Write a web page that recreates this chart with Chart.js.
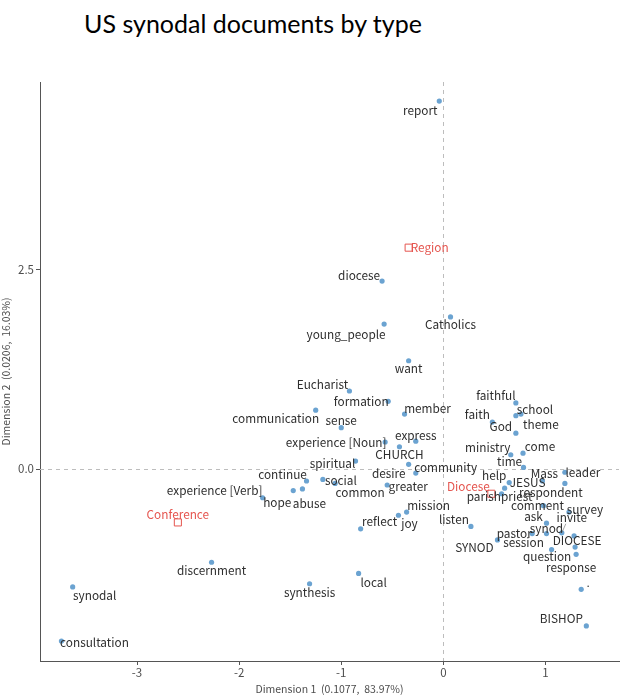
<!DOCTYPE html>
<html><head><meta charset="utf-8">
<script src="https://cdn.jsdelivr.net/npm/chart.js@4"></script>
<style>
html,body{margin:0;padding:0;background:#fff;}
#wrap{position:relative;width:625px;height:698px;overflow:hidden;}
#title{position:absolute;left:0;top:1px;width:506px;text-align:center;font-family:Lato,"Open Sans",sans-serif;font-size:25px;line-height:44px;color:#000;}
canvas{position:absolute;left:0;top:0;}
</style></head>
<body><div id="wrap"><div id="title">US synodal documents by type</div><canvas id="c" width="625" height="698"></canvas></div>
<script>
const words = ['report','diocese','Catholics','young_people','want','Eucharist','formation','member','communication','sense',
 'experience [Noun]','express','CHURCH','spiritual','community','desire','greater','common','social','continue',
 'abuse','hope','experience [Verb]','mission','joy','reflect','listen','SYNOD','pastor','session',
 'synod','ask','comment','survey','invite','DIOCESE','question','response','.','BISHOP',
 'Mass','leader','respondent','help','JESUS','parishpriest','time','come','ministry','faithful',
 'school','theme','faith','God','discernment','synodal','consultation','synthesis','local'];
const dim1 = [-0.04,-0.60,0.07,-0.58,-0.34,-0.92,-0.54,-0.38,-1.25,-1.00,
 -0.57,-0.27,-0.43,-0.86,-0.34,-0.27,-0.55,-1.06,-1.18,-1.34,
 -1.38,-1.47,-1.77,-0.36,-0.44,-0.81,0.27,0.53,0.87,1.06,
 1.01,1.01,0.98,1.23,1.16,1.28,1.29,1.30,1.35,1.40,
 0.97,1.19,1.19,0.645,0.60,0.57,0.785,0.78,0.66,0.71,
 0.76,0.71,0.48,0.71,-2.27,-3.63,-3.74,-1.31,-0.83];
const dim2 = [4.62,2.36,1.91,1.82,1.36,0.98,0.85,0.69,0.74,0.52,
 0.34,0.35,0.28,0.10,0.06,-0.05,-0.20,-0.18,-0.13,-0.15,
 -0.25,-0.27,-0.36,-0.54,-0.58,-0.75,-0.72,-0.89,-0.81,-1.01,
 -0.81,-0.68,-0.46,-0.54,-0.80,-0.84,-0.98,-1.07,-1.51,-1.97,
 -0.15,-0.04,-0.18,-0.17,-0.24,-0.31,0.02,0.20,0.18,0.83,
 0.69,0.67,0.59,0.45,-1.17,-1.48,-2.16,-1.44,-1.31];
const suppLabels = ['Region','Conference','Diocese'];
const suppDim1 = [-0.34,-2.60,0.47];
const suppDim2 = [2.78,-0.67,-0.31];
const xTicks = [-3,-2,-1,0,1];
const yTicks = [0.0,2.5];
const xTitle = 'Dimension 1  (0.1077,  83.97%)';
const yTitle = 'Dimension 2  (0.0206,  16.03%)';

// label placement (pixel offsets from each point), layout only
const wordOffsets = [[-19,9],[-23,-6],[0,8],[-38,10],[0,8],[-27,-7],[-27,0],[23,-6],[-40,8],[0,-7],
 [-49,1],[0,-6],[0,8],[-23,2],[37,3],[-27,0],[21,2],[25,9],[18,1],[-24,-7],
 [7,15],[-16,12],[-48,-7],[22,-7],[11,8],[19,-7],[-17,-7],[-23,8],[-18,0],[-28,-7],
 [0,-5],[-13,-7],[-6,0],[16,-3],[10,-15],[3,5],[-28,9],[-5,13],[7,-7],[-25,-7],
 [2,-8],[18,0],[-14,9],[-15,-7],[23,-6],[-2,3],[-14,-6],[17,-7],[-23,-7],[-20,-7],
 [14,-5],[25,9],[-15,-8],[-15,-7],[0,8],[22,9],[33,1],[0,9],[15,9]];
const suppOffsets = [[21,0],[0,-8],[-23,-7]];
const segmentWords = ['invite'];

const FONT = '"Noto Sans CJK JP","Noto Sans",sans-serif';
const POINT = '#6BA3D1', SUPP = '#E5554F', TXT = '#2E2E2E', AX = '#555555';

const refLines = {
  id:'refLines',
  beforeDatasetsDraw(chart){
    const {ctx, chartArea:a, scales:{x,y}} = chart;
    ctx.save();
    ctx.strokeStyle = '#BDBDBD'; ctx.lineWidth = 1; ctx.setLineDash([4,4]);
    const x0 = Math.round(x.getPixelForValue(0))+0.5, y0 = Math.round(y.getPixelForValue(0))+0.5;
    ctx.beginPath(); ctx.moveTo(x0,a.top); ctx.lineTo(x0,a.bottom); ctx.stroke();
    ctx.beginPath(); ctx.moveTo(a.left,y0); ctx.lineTo(a.right,y0); ctx.stroke();
    ctx.restore();
  }
};
const labels = {
  id:'labels',
  afterDatasetsDraw(chart){
    const {ctx, scales:{x,y}} = chart;
    ctx.save();
    ctx.font = '11.8px '+FONT; ctx.textAlign='center'; ctx.textBaseline='middle';
    words.forEach((w,i)=>{
      const px = x.getPixelForValue(dim1[i]), py = y.getPixelForValue(dim2[i]);
      const lx = px+wordOffsets[i][0], ly = py+wordOffsets[i][1];
      if (segmentWords.includes(w)) {
        ctx.strokeStyle='#666'; ctx.lineWidth=0.6; ctx.beginPath();
        ctx.moveTo(px,py); ctx.lineTo(lx-6,ly+6); ctx.stroke();
      }
      ctx.fillStyle = TXT; ctx.fillText(w,lx,ly);
    });
    ctx.fillStyle = SUPP;
    suppLabels.forEach((w,i)=>{
      const px = x.getPixelForValue(suppDim1[i]), py = y.getPixelForValue(suppDim2[i]);
      ctx.fillText(w,px+suppOffsets[i][0],py+suppOffsets[i][1]);
    });
    ctx.restore();
  }
};

new Chart(document.getElementById('c'),{
  type:'scatter',
  data:{datasets:[
    {data:words.map((w,i)=>({x:dim1[i],y:dim2[i]})),pointRadius:2.6,pointHoverRadius:2.6,backgroundColor:POINT,borderWidth:0},
    {data:suppLabels.map((w,i)=>({x:suppDim1[i],y:suppDim2[i]})),pointStyle:'rect',pointRadius:5,pointHoverRadius:5,backgroundColor:'rgba(0,0,0,0)',borderColor:SUPP,borderWidth:1}
  ]},
  options:{
    responsive:false, animation:false, devicePixelRatio:1,
    layout:{padding:{top:82,right:5,left:0,bottom:0}},
    plugins:{legend:{display:false},tooltip:{enabled:false}},
    scales:{
      x:{type:'linear',min:-3.95,max:1.72,
        afterBuildTicks(s){s.ticks = xTicks.map(v=>({value:v}));},
        afterFit(s){s.height=37;},
        grid:{display:true,drawOnChartArea:false,drawTicks:true,tickLength:4,color:AX},
        border:{display:true,color:AX,width:1},
        ticks:{color:'#4D4D4D',font:{family:FONT,size:11.5},padding:1,maxRotation:0,callback:v=>String(v)},
        title:{display:true,text:xTitle,color:'#4D4D4D',font:{family:FONT,size:10.5},padding:{top:0,bottom:3}}
      },
      y:{type:'linear',min:-2.41,max:4.86,
        afterBuildTicks(s){s.ticks = yTicks.map(v=>({value:v}));},
        afterFit(s){s.width=40;},
        grid:{display:true,drawOnChartArea:false,drawTicks:true,tickLength:4,color:AX},
        border:{display:true,color:AX,width:1},
        ticks:{color:'#4D4D4D',font:{family:FONT,size:11.5},padding:2,callback:v=>Number(v).toFixed(1)},
        title:{display:true,text:yTitle,color:'#4D4D4D',font:{family:FONT,size:10.5},padding:{top:0,bottom:4}}
      }
    }
  },
  plugins:[refLines,labels]
});
</script></body></html>
